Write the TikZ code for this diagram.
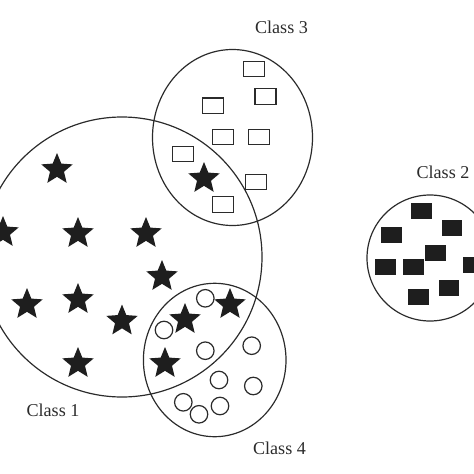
\documentclass[tikz,border=0pt]{standalone}
\usepackage{fontspec}
\setmainfont{Liberation Serif}
\usetikzlibrary{shapes.geometric}
\definecolor{CLInk}{HTML}{2B2B2B}
\definecolor{CLFill}{HTML}{1E1E1E}

\begin{document}
\begin{tikzpicture}[x=0.02cm,y=-0.02cm,
  classring/.style={draw=CLInk,line width=0.68pt},
  starmark/.style={star,star points=5,star point ratio=2.25,minimum size=0.66cm,inner sep=0pt,fill=CLFill,draw=none},
  boxmark/.style={rectangle,draw=CLInk,line width=0.7pt,minimum width=0.42cm,minimum height=0.31cm,inner sep=0pt},
  blockmark/.style={rectangle,fill=CLFill,minimum width=0.42cm,minimum height=0.32cm,inner sep=0pt},
  dotmark/.style={circle,draw=CLInk,line width=0.7pt,minimum size=0.35cm,inner sep=0pt},
  classlabel/.style={font=\fontsize{10.3}{12}\selectfont,text=CLInk,inner sep=0pt}]
\path[use as bounding box] (0,0) rectangle (474,474);
\draw[classring] (122,257) circle [radius=140];
\draw[classring] (232.5,137.5) ellipse [x radius=80,y radius=88];
\draw[classring] (430,258) circle [radius=63];
\draw[classring] (214.7,360) ellipse [x radius=71.3,y radius=76.7];
\node[starmark] (s1) at (57,169.5) {};
\node[starmark] (s2) at (3,232.5) {};
\node[starmark] (s3) at (78,233.5) {};
\node[starmark] (s4) at (146,233.5) {};
\node[starmark] (s5) at (162,276.5) {};
\node[starmark] (s6) at (27,304.5) {};
\node[starmark] (s7) at (78,299.5) {};
\node[starmark] (s8) at (122,321) {};
\node[starmark] (s9) at (78,363.5) {};
\node[starmark] (s10) at (204,178.5) {};
\node[starmark] (s11) at (185,319.5) {};
\node[starmark] (s12) at (230,304.5) {};
\node[starmark] (s13) at (165,363.5) {};
\node[boxmark] (b1) at (254,69) {};
\node[boxmark] (b2) at (265.5,96.5) {};
\node[boxmark] (b3) at (213,105.7) {};
\node[boxmark] (b4) at (223,137) {};
\node[boxmark] (b5) at (259,137) {};
\node[boxmark] (b6) at (183,154) {};
\node[boxmark] (b7) at (256,182) {};
\node[boxmark] (b8) at (223,204.5) {};
\node[blockmark] (k1) at (421.8,211.3) {};
\node[blockmark] (k2) at (452,227.7) {};
\node[blockmark] (k3) at (391.7,235.3) {};
\node[blockmark] (k4) at (435.7,252.8) {};
\node[blockmark] (k5) at (385.5,266.7) {};
\node[blockmark] (k6) at (413.8,266.7) {};
\node[blockmark] (k7) at (473.2,265) {};
\node[blockmark] (k8) at (449,287.8) {};
\node[blockmark] (k9) at (418.3,297) {};
\node[dotmark] (d1) at (205.3,298.3) {};
\node[dotmark] (d2) at (164,330) {};
\node[dotmark] (d3) at (205.3,350.7) {};
\node[dotmark] (d4) at (251.7,345.7) {};
\node[dotmark] (d5) at (219,380) {};
\node[dotmark] (d6) at (253.3,386) {};
\node[dotmark] (d7) at (183.3,402.3) {};
\node[dotmark] (d8) at (199,414.3) {};
\node[dotmark] (d9) at (220,406) {};
\node[classlabel] (class1) at (53,410) {Class 1};
\node[classlabel] (class2) at (443,172) {Class 2};
\node[classlabel] (class3) at (281.5,27) {Class 3};
\node[classlabel] (class4) at (279.5,448) {Class 4};
\end{tikzpicture}
\end{document}
